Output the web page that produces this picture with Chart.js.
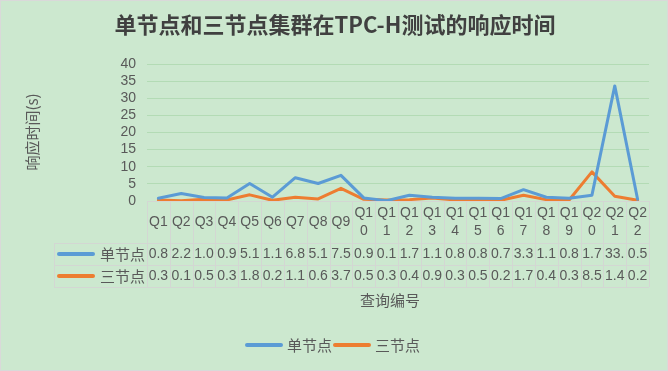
<!DOCTYPE html>
<html>
<head>
<meta charset="utf-8">
<script src="https://cdn.jsdelivr.net/npm/chart.js@4.4.0/dist/chart.umd.min.js"></script>
<style>
  html, body { margin: 0; padding: 0; background: #cce8cf; }
  canvas { display: block; }
</style>
</head>
<body>
<canvas id="chart" width="668" height="371"></canvas>
<script>
const queries = ["Q1", "Q2", "Q3", "Q4", "Q5", "Q6", "Q7", "Q8", "Q9", "Q10", "Q11",
  "Q12", "Q13", "Q14", "Q15", "Q16", "Q17", "Q18", "Q19", "Q20", "Q21", "Q22"];
const singleNode = [0.8, 2.2, 1.0, 0.9, 5.1, 1.1, 6.8, 5.1, 7.5, 0.9, 0.1,
  1.7, 1.1, 0.8, 0.8, 0.7, 3.3, 1.1, 0.8, 1.7, 33.6, 0.5];
const threeNode = [0.3, 0.1, 0.5, 0.3, 1.8, 0.2, 1.1, 0.6, 3.7, 0.5, 0.3,
  0.4, 0.9, 0.3, 0.5, 0.2, 1.7, 0.4, 0.3, 8.5, 1.4, 0.2];
const seriesNames = ["单节点", "三节点"];
const colors = ["#5b9bd5", "#ed7d31"];
const yMax = 40;
const yStep = 5;

const titleText = "单节点和三节点集群在TPC-H测试的响应时间";
const yTitle = "响应时间(s)";
const xTitle = "查询编号";

const textColor = "#595959";
const lineColor = "#d3d7d3";
const latin = '"Liberation Sans", "Noto Sans CJK SC", sans-serif';
const cjk = '"Noto Sans CJK SC", sans-serif';

// split a label into lines that fit a cell, char by char like Excel does
function wrap(ctx, text, width) {
  const lines = [];
  let cur = "";
  for (const ch of text) {
    if (cur && ctx.measureText(cur + ch).width > width) {
      lines.push(cur);
      cur = ch;
    } else {
      cur += ch;
    }
  }
  if (cur) lines.push(cur);
  return lines;
}

function fitText(ctx, text, width) {
  let t = text;
  while (t.length > 1 && ctx.measureText(t).width > width) t = t.slice(0, -1);
  return t;
}

const tablePlugin = {
  id: "dataTable",
  beforeDraw(chart) {
    const { ctx, width, height } = chart;
    ctx.save();
    ctx.fillStyle = "#cce8cf";
    ctx.fillRect(0, 0, width, height);
    ctx.strokeStyle = "#d9d9d9";
    ctx.lineWidth = 1;
    ctx.strokeRect(0.5, 0.5, width - 1, height - 1);
    ctx.restore();
  },
  afterDraw(chart) {
    const { ctx, chartArea } = chart;
    const x = chart.scales.x;
    const left = chartArea.left, right = chartArea.right;
    const colW = (right - left) / queries.length;
    const top = chartArea.bottom;
    const headBottom = top + 42;
    const rowH = 22;
    const rows = [headBottom, headBottom + rowH, headBottom + 2 * rowH];
    const keyLeft = 54;

    ctx.save();

    // title
    ctx.fillStyle = "#404040";
    ctx.font = "bold 22px " + cjk;
    ctx.textAlign = "center";
    ctx.textBaseline = "middle";
    ctx.fillText(titleText, chart.width / 2 + 1, 25);

    // y title
    ctx.save();
    ctx.translate(32, 132);
    ctx.rotate(-Math.PI / 2);
    ctx.fillStyle = textColor;
    ctx.font = "15px " + cjk;
    ctx.fillText(yTitle, 0, 0);
    ctx.restore();

    // table grid
    ctx.strokeStyle = lineColor;
    ctx.lineWidth = 1;
    ctx.beginPath();
    ctx.moveTo(left, Math.round(top) + 0.5);
    ctx.lineTo(right, Math.round(top) + 0.5);
    rows.forEach((y) => {
      ctx.moveTo(keyLeft, Math.round(y) + 0.5);
      ctx.lineTo(right, Math.round(y) + 0.5);
    });
    for (let i = 0; i <= queries.length; i++) {
      const gx = Math.round(left + i * colW) + 0.5;
      ctx.moveTo(gx, top);
      ctx.lineTo(gx, rows[2]);
    }
    ctx.moveTo(keyLeft + 0.5, rows[0]);
    ctx.lineTo(keyLeft + 0.5, rows[2]);
    ctx.stroke();

    // header labels
    ctx.fillStyle = textColor;
    ctx.font = "14px " + latin;
    ctx.textAlign = "center";
    queries.forEach((q, i) => {
      const cx = x.getPixelForValue(i);
      const lines = wrap(ctx, q, colW - 3);
      const lh = 18;
      const y0 = (top + headBottom) / 2 - ((lines.length - 1) * lh) / 2;
      lines.forEach((ln, k) => ctx.fillText(ln, cx, y0 + k * lh));
    });

    // value rows
    [singleNode, threeNode].forEach((vals, r) => {
      const cy = (rows[r] + rows[r + 1]) / 2;
      ctx.font = "14px " + latin;
      ctx.textAlign = "center";
      vals.forEach((v, i) => {
        const cx = x.getPixelForValue(i);
        ctx.fillText(fitText(ctx, v.toFixed(1), colW - 2), cx, cy);
      });
      // key
      ctx.strokeStyle = colors[r];
      ctx.lineWidth = 4;
      ctx.lineCap = "round";
      ctx.beginPath();
      ctx.moveTo(59, cy);
      ctx.lineTo(93, cy);
      ctx.stroke();
      ctx.font = "15px " + cjk;
      ctx.textAlign = "left";
      ctx.fillText(seriesNames[r], 100, cy);
    });

    // x title
    ctx.font = "15px " + cjk;
    ctx.textAlign = "center";
    ctx.fillText(xTitle, (left + right) / 2 - 8, 300);

    // legend
    ctx.font = "15px " + cjk;
    ctx.textAlign = "left";
    let lx = 247;
    seriesNames.forEach((name, r) => {
      ctx.strokeStyle = colors[r];
      ctx.lineWidth = 4;
      ctx.beginPath();
      ctx.moveTo(lx, 345);
      ctx.lineTo(lx + 34, 345);
      ctx.stroke();
      ctx.fillText(name, lx + 40, 345);
      lx += 88;
    });

    ctx.restore();
  }
};

new Chart(document.getElementById("chart"), {
  type: "line",
  data: {
    labels: queries,
    datasets: [
      { label: seriesNames[0], data: singleNode, borderColor: colors[0], backgroundColor: colors[0] },
      { label: seriesNames[1], data: threeNode, borderColor: colors[1], backgroundColor: colors[1] }
    ]
  },
  options: {
    responsive: false,
    animation: false,
    layout: { padding: { left: 0, right: 19, top: 64, bottom: 170 } },
    elements: {
      line: { borderWidth: 3, tension: 0, borderJoinStyle: "round", borderCapStyle: "round" },
      point: { radius: 0, hoverRadius: 0 }
    },
    plugins: { legend: { display: false }, title: { display: false }, tooltip: { enabled: false } },
    scales: {
      x: {
        type: "category",
        offset: true,
        display: false
      },
      y: {
        min: 0,
        max: yMax,
        afterFit(scale) { scale.width = 147; },
        ticks: { stepSize: yStep, autoSkip: false, padding: 11, color: textColor, font: { family: "Liberation Sans", size: 14 } },
        grid: { color: "#b3dbb5", drawTicks: false },
        border: { display: false }
      }
    }
  },
  plugins: [tablePlugin]
});
</script>
</body>
</html>
